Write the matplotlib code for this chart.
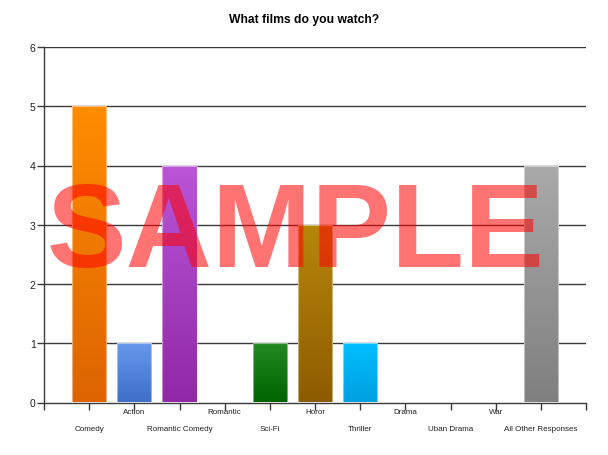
import numpy as np
import matplotlib
matplotlib.use("Agg")
import matplotlib.pyplot as plt
from matplotlib.colors import LinearSegmentedColormap

plt.rcParams['font.family'] = ['Liberation Sans', 'DejaVu Sans']

categories = ["Comedy", "Action", "Romantic Comedy", "Romantic", "Sci-Fi", "Horor",
              "Thriller", "Drama", "Uban Drama", "War", "All Other Responses"]
counts = [5, 1, 4, 0, 1, 3, 1, 0, 0, 0, 4]
# gradient (top, bottom) for each bar that has a value
top_colors = ["#FF8C00", "#6699EE", "#BB55D8", None, "#228B22", "#B8860B",
              "#00BFFF", None, None, None, "#A9A9A9"]
bottom_colors = ["#DD6400", "#3F6FC8", "#9028A8", None, "#006400", "#8E5C00",
                 "#00A0E0", None, None, None, "#808080"]

fig = plt.figure(figsize=(6.08, 4.56), dpi=100)
ax = fig.add_axes([44 / 608, 1 - 403.5 / 456, 542 / 608, 355.5 / 456])

x = np.arange(1, len(categories) + 1)
ax.set_xlim(0, 12)
ax.set_ylim(0, 6)

for yv in range(1, 7):
    ax.axhline(yv, color="#3a3a3a", lw=1.0, zorder=1)

bars = ax.bar(x, counts, width=0.76, color="none", edgecolor=(1, 1, 1, 0.45),
              lw=0.8, zorder=3)
for i, b in enumerate(bars):
    if counts[i] == 0:
        continue
    cmap = LinearSegmentedColormap.from_list("g%d" % i, [bottom_colors[i], top_colors[i]])
    grad = np.linspace(1, 0, 100).reshape(-1, 1)
    x0 = b.get_x()
    im = ax.imshow(grad, cmap=cmap, aspect="auto", vmin=0, vmax=1,
                   extent=[x0, x0 + b.get_width(), 0, b.get_height()], zorder=2)
    im.set_clip_path(b)

ax.set_xlim(0, 12)
ax.set_ylim(0, 6)

for s in ["top", "right"]:
    ax.spines[s].set_visible(False)
for s in ["left", "bottom"]:
    ax.spines[s].set_color("#3a3a3a")
    ax.spines[s].set_linewidth(1.0)

ax.set_yticks(range(0, 7))
ax.tick_params(axis="y", length=5, width=1, color="#3a3a3a", labelsize=7.5,
               labelcolor="#222222", pad=1)
ax.set_xticks(range(0, 13))
ax.set_xticklabels([])
ax.tick_params(axis="x", length=5, width=1, color="#3a3a3a")

# staggered category labels
for i, name in enumerate(categories):
    ypix = 413 if i % 2 == 1 else 430
    fig.text((44 + x[i] * 542 / 12) / 608, 1 - ypix / 456, name,
             ha="center", va="center", fontsize=5.8, color="#222222")

fig.text(0.5, 1 - 20 / 456, "What films do you watch?", ha="center", va="center",
         fontsize=8.7, fontweight="bold", color="black")

fig.text(296 / 608, 1 - 267.5 / 456, "SAMPLE", ha="center", va="baseline",
         fontsize=86, fontweight="bold", color="red", alpha=0.55, zorder=10)

fig.savefig("out.png", dpi=100)
